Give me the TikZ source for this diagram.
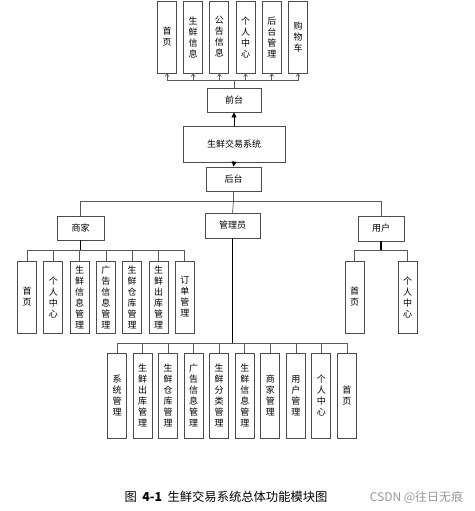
\documentclass[tikz,border=0pt]{standalone}
\usepackage{fontspec}
\newfontfamily\cjk{Noto Sans CJK SC}
\usetikzlibrary{arrows.meta}
\tikzset{
  box/.style={draw=black!70,line width=0.9pt,fill=white,inner sep=0pt,align=center,
    font=\cjk\fontsize{9}{11}\selectfont},
  vbox/.style={box,minimum width=19pt,minimum height=#1},
  hbox/.style={box,minimum height=24pt},
  link/.style={draw=black!65,line width=0.7pt},
  trunk/.style={draw=black,line width=1.1pt},
  up/.style={link,-{Straight Barb[length=2.5pt,width=4pt]}},
  solid arrow/.style={draw=black,line width=0.8pt,-{Triangle[length=5pt,width=5pt]}}
}
\begin{document}
\begin{tikzpicture}[x=1pt,y=-1pt]
\fill[white](0,0)rectangle(474,511);
\useasboundingbox(0,0)rectangle(474,511);
%
\node[hbox,minimum width=102pt,minimum height=36pt](sys)at(234,144){生鲜交易系统};
\node[hbox,minimum width=54pt](front)at(234,100){前台};
\node[hbox,minimum width=55pt](back)at(233.5,179){后台};
\draw[solid arrow](sys.north)--(front.south);
\draw[solid arrow](sys.south)--(back.north);
%
\foreach \i/\t in {1/{首\\页},2/{生\\鲜\\信\\息},3/{公\\告\\信\\息},4/{个\\人\\中\\心},5/{后\\台\\管\\理},6/{购\\物\\车}}
  \node[vbox=72pt](t\i)at({167+26.2*(\i-1)},37){\t};
\coordinate(fbus)at(234,80);
\draw[link](front.north)--(fbus);
\foreach \i in {1,...,6}
  \draw[up](fbus)-|(t\i.south);
%
\node[hbox,minimum width=47pt](seller)at(80.5,228){商家};
\node[hbox,minimum width=55pt,minimum height=25pt](admin)at(232.5,225.5){管理员};
\node[hbox,minimum width=46pt,minimum height=25pt](user)at(381,228.5){用户};
\coordinate(bbus)at(233.5,201);
\draw[link](back.south)--(bbus);
\draw[link](bbus)-|(seller.north);
\draw[link](bbus)-|(user.north);
\draw[link](bbus)--(admin.north);
%
\foreach \i/\t in {1/{首\\页},2/{个\\人\\中\\心},3/{生\\鲜\\信\\息\\管\\理},4/{广\\告\\信\\息\\管\\理},
  5/{生\\鲜\\仓\\库\\管\\理},6/{生\\鲜\\出\\库\\管\\理},7/{订\\单\\管\\理}}
  \node[vbox=72pt](s\i)at({27+26.3*(\i-1)},297){\t};
\coordinate(sbus)at(80.5,250);
\draw[trunk](seller.south)--(sbus);
\foreach \i in {1,...,7}
  \draw[link](sbus)-|(s\i.north);
%
\node[vbox=72pt](u1)at(354.5,297){首\\页};
\node[vbox=72pt](u2)at(407.5,297){个\\人\\中\\心};
\coordinate(ubus)at(381,250);
\draw[trunk](user.south)--(ubus);
\draw[link](ubus)-|(u1.north);
\draw[link](ubus)-|(u2.north);
%
\foreach \i/\t in {1/{系\\统\\管\\理},2/{生\\鲜\\出\\库\\管\\理},3/{生\\鲜\\仓\\库\\管\\理},
  4/{广\\告\\信\\息\\管\\理},5/{生\\鲜\\分\\类\\管\\理},6/{生\\鲜\\信\\息\\管\\理},
  7/{商\\家\\管\\理},8/{用\\户\\管\\理},9/{个\\人\\中\\心},10/{首\\页}}
  \node[vbox=85pt](a\i)at({117+25.55*(\i-1)},395.5){\t};
\coordinate(abus)at(232.5,343);
\draw[trunk](admin.south)--(abus);
\foreach \i in {1,...,10}
  \draw[link](abus)-|(a\i.north);
%
\node[font=\cjk\fontsize{12.3}{14}\selectfont](cap)at(226,497){图\ \ \textbf{4-1}\ \ 生鲜交易系统总体功能模块图};
\node[font=\cjk\fontsize{12}{14}\selectfont,text=black!40](mark)at(416.5,497){CSDN @往日无痕};
\end{tikzpicture}
\end{document}
